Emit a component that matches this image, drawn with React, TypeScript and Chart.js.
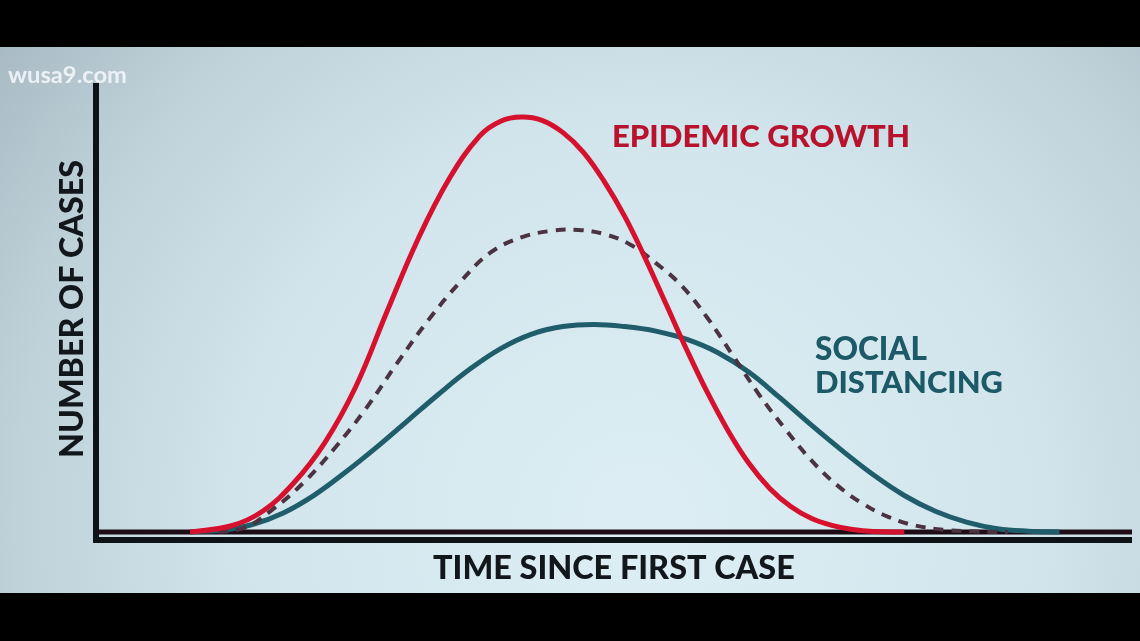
import React, { useEffect, useRef } from "react";
import { Chart, registerables } from "chart.js";

Chart.register(...registerables);

// Time since first case (0..100) and number of cases (peak of epidemic curve = 100)
const epidemicTime = [9, 13, 16, 19, 22, 25, 28, 31, 34, 37, 39, 41, 43, 45, 47, 49, 51, 53, 55, 57, 59, 61, 63, 65, 67, 69, 71, 73, 75, 78];
const epidemicCases = [0, 1.5, 5.0, 11.8, 21.5, 35.0, 53.0, 70.5, 85.0, 95.5, 99.0, 100, 99.2, 96.3, 91.5, 84.5, 76.0, 65.8, 54.8, 43.8, 33.5, 24.3, 16.5, 10.5, 6.2, 3.3, 1.6, 0.6, 0.1, 0];

const middleTime = [10, 14, 17, 20, 23, 26, 29, 32, 35, 38, 41, 44, 46.5, 49, 51.5, 54, 56.5, 59, 61.5, 64, 66.5, 69, 71.5, 74, 76.5, 79, 82, 85, 88];
const middleCases = [0, 0.8, 5.5, 12.0, 20.3, 29.8, 40.7, 51.0, 60.0, 67.3, 71.0, 72.6, 72.8, 71.8, 69.3, 64.8, 59.3, 51.5, 42.3, 33.0, 24.8, 17.3, 11.3, 6.8, 3.6, 1.6, 0.5, 0.1, 0];

const distancingTime = [9, 12, 15, 18, 21, 24, 27, 30, 33, 36, 39, 42, 45, 48, 51, 54, 57, 60, 63, 66, 69, 72, 75, 78, 81, 84, 87, 90, 93];
const distancingCases = [0, 0.4, 1.8, 4.6, 8.9, 14.4, 20.4, 26.8, 33.2, 39.2, 44.2, 47.7, 49.5, 50.0, 49.5, 48.4, 46.4, 43.2, 38.5, 32.3, 25.8, 19.6, 13.8, 8.8, 5.0, 2.4, 0.8, 0.2, 0];

const baselineTime = [0, 100];
const baselineCases = [0, 0];

const labelEpidemic = "EPIDEMIC GROWTH";
const labelDistancing = ["SOCIAL", "DISTANCING"];
const labelYAxis = "NUMBER OF CASES";
const labelXAxis = "TIME SINCE FIRST CASE";
const watermark = "wusa9.com";

const toPoints = (xs: number[], ys: number[]) => xs.map((x, i) => ({ x, y: ys[i] }));

const FONT = "Lato, 'Open Sans', sans-serif";

function fitSize(ctx: CanvasRenderingContext2D, text: string, weight: string, width: number) {
  ctx.font = `${weight} 100px ${FONT}`;
  const w = ctx.measureText(text).width;
  return (100 * width) / w;
}

function drawFitted(
  ctx: CanvasRenderingContext2D,
  text: string,
  x: number,
  y: number,
  width: number,
  color: string,
  weight = "900"
) {
  const size = fitSize(ctx, text, weight, width);
  ctx.font = `${weight} ${size}px ${FONT}`;
  ctx.fillStyle = color;
  ctx.textAlign = "left";
  ctx.textBaseline = "middle";
  ctx.fillText(text, x, y);
}

const scenePlugin = {
  id: "scene",
  beforeDraw(chart: any) {
    const ctx: CanvasRenderingContext2D = chart.ctx;
    const W = chart.width;
    const H = chart.height;
    ctx.save();
    const g = ctx.createRadialGradient(640, 520, 40, 640, 520, 820);
    g.addColorStop(0, "#dceef4");
    g.addColorStop(0.45, "#d2e5ec");
    g.addColorStop(0.75, "#bfd1d9");
    g.addColorStop(1, "#a6b7c1");
    ctx.fillStyle = g;
    ctx.fillRect(0, 0, W, H);
    ctx.fillStyle = "#000000";
    ctx.fillRect(0, 0, W, 47);
    ctx.fillRect(0, 593, W, H - 593);
    ctx.restore();
  },
  beforeDatasetsDraw(chart: any) {
    const ctx: CanvasRenderingContext2D = chart.ctx;
    const { left, right, top, bottom } = chart.chartArea;
    ctx.save();
    ctx.strokeStyle = "#0e1317";
    ctx.lineWidth = 6;
    ctx.lineCap = "butt";
    ctx.beginPath();
    ctx.moveTo(left - 1, top);
    ctx.lineTo(left - 1, bottom + 3);
    ctx.moveTo(left - 4, bottom);
    ctx.lineTo(right, bottom);
    ctx.stroke();
    ctx.restore();
  },
  afterDraw(chart: any) {
    const ctx: CanvasRenderingContext2D = chart.ctx;
    ctx.save();
    ctx.globalAlpha = 0.9;
    drawFitted(ctx, watermark, 8, 75, 119, "#f2f6f8", "700");
    ctx.globalAlpha = 1;
    drawFitted(ctx, labelEpidemic, 612, 137, 298, "#b9122d");
    drawFitted(ctx, labelDistancing[0], 815, 350, 112, "#1d5a67");
    drawFitted(ctx, labelDistancing[1], 815, 383, 188, "#1d5a67");
    drawFitted(ctx, labelXAxis, 433, 569, 362, "#12171b");
    ctx.translate(73, 458);
    ctx.rotate(-Math.PI / 2);
    drawFitted(ctx, labelYAxis, 0, 0, 298, "#12171b");
    ctx.restore();
  },
};

export default function App() {
  const ref = useRef<HTMLCanvasElement | null>(null);
  useEffect(() => {
    document.body.style.margin = "0";
    const canvas = ref.current;
    if (!canvas) return;
    const chart = new Chart(canvas, {
      type: "line",
      data: {
        datasets: [
          {
            label: "Epidemic growth",
            data: toPoints(epidemicTime, epidemicCases),
            borderColor: "#d6112e",
            borderWidth: 5,
            tension: 0.4,
            pointRadius: 0,
            fill: false,
          },
          {
            label: "Intermediate",
            data: toPoints(middleTime, middleCases),
            borderColor: "#4b3341",
            borderWidth: 4,
            borderDash: [10, 8],
            tension: 0.4,
            pointRadius: 0,
            fill: false,
          },
          {
            label: "Social distancing",
            data: toPoints(distancingTime, distancingCases),
            borderColor: "#1f5d6a",
            borderWidth: 5,
            tension: 0.4,
            pointRadius: 0,
            fill: false,
          },
          {
            label: "Baseline",
            data: toPoints(baselineTime, baselineCases),
            borderColor: "#1e0d16",
            borderWidth: 5,
            pointRadius: 0,
            fill: false,
          },
        ],
      },
      options: {
        responsive: false,
        animation: false,
        events: [],
        layout: { padding: { left: 97, right: 8, top: 83, bottom: 101 } },
        scales: {
          x: { type: "linear", min: 0, max: 100, display: false },
          y: { type: "linear", min: -1.93, max: 108.2, display: false },
        },
        plugins: {
          legend: { display: false },
          tooltip: { enabled: false },
        },
      },
      plugins: [scenePlugin],
    });
    return () => chart.destroy();
  }, []);
  return (
    <div style={{ position: "absolute", left: 0, top: 0, width: 1140, height: 641 }}>
      <canvas ref={ref} width={1140} height={641} style={{ display: "block" }} />
    </div>
  );
}
